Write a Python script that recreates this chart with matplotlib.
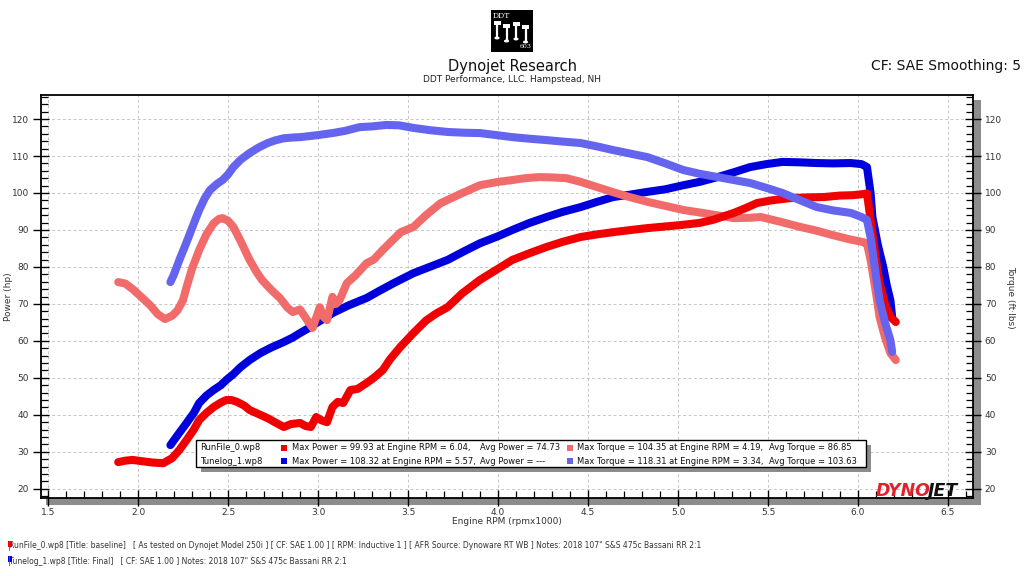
import matplotlib
matplotlib.use("Agg")
import matplotlib.pyplot as plt
from matplotlib.patches import Rectangle, Circle
from matplotlib.ticker import MultipleLocator

# ---------------- data ----------------
rpm_p0 = [1.89,1.93,1.97,2.03,2.08,2.14,2.19,2.23,2.27,2.31,2.34,2.38,2.42,2.46,2.49,2.52,2.55,2.59,2.62,2.67,
          2.72,2.76,2.81,2.85,2.90,2.93,2.96,2.99,3.02,3.05,3.08,3.11,3.14,3.18,3.22,3.27,3.31,3.36,3.40,3.46,
          3.53,3.60,3.66,3.72,3.80,3.90,4.00,4.08,4.18,4.27,4.36,4.46,4.55,4.64,4.74,4.83,4.92,5.01,5.12,5.20,
          5.26,5.31,5.38,5.44,5.52,5.62,5.72,5.81,5.90,5.97,6.03,6.05,6.07,6.10,6.12,6.15,6.18,6.21]
power0 = [27.2,27.6,27.8,27.4,27.1,26.9,28.3,30.5,33.2,36.0,38.6,40.5,42.1,43.3,44.0,44.0,43.5,42.5,41.3,40.2,
          39.1,38.0,36.7,37.5,37.8,37.0,36.7,39.4,38.5,38.0,42.1,43.5,43.2,46.7,47.0,48.6,50.0,52.1,55.0,58.5,
          62.1,65.5,67.5,69.1,72.8,76.5,79.5,81.9,83.8,85.4,86.8,88.1,88.8,89.4,90.0,90.5,90.9,91.3,91.9,92.8,
          93.8,94.6,96.0,97.3,98.0,98.6,98.8,98.9,99.3,99.4,99.7,99.9,92.7,82.0,75.6,70.0,66.5,65.1]

rpm_t0 = [1.89,1.93,1.97,2.02,2.07,2.11,2.15,2.19,2.22,2.25,2.27,2.30,2.34,2.38,2.42,2.45,2.47,2.50,2.53,2.57,
          2.62,2.66,2.69,2.74,2.79,2.83,2.86,2.90,2.94,2.97,3.01,3.03,3.05,3.08,3.10,3.12,3.16,3.21,3.27,3.31,
          3.36,3.41,3.46,3.53,3.60,3.68,3.78,3.90,4.00,4.08,4.15,4.23,4.30,4.38,4.46,4.55,4.64,4.73,4.84,4.93,
          5.03,5.15,5.31,5.40,5.46,5.57,5.68,5.77,5.86,5.95,6.03,6.05,6.07,6.10,6.12,6.15,6.18,6.21]
torque0 = [75.9,75.5,74.0,71.8,69.5,67.2,65.9,66.8,68.3,71.0,74.6,79.5,84.6,88.8,91.8,93.0,93.2,92.5,90.8,87.0,
           81.9,78.5,76.4,73.8,71.5,69.0,67.8,68.5,65.6,63.5,69.1,66.5,65.6,71.9,70.0,71.0,75.6,77.8,81.0,82.0,
           84.6,87.0,89.4,90.8,94.0,97.2,99.5,102.1,103.0,103.5,104.0,104.3,104.2,104.0,103.0,101.6,100.2,98.9,97.5,96.5,
           95.4,94.5,93.2,93.3,93.5,92.2,90.8,89.8,88.6,87.5,86.7,86.3,81.9,73.0,66.4,61.0,56.7,54.8]

rpm_p1 = [2.18,2.22,2.27,2.31,2.34,2.38,2.42,2.46,2.49,2.53,2.57,2.62,2.68,2.74,2.81,2.86,2.90,2.95,2.99,3.04,
          3.08,3.17,3.27,3.34,3.42,3.53,3.62,3.72,3.81,3.90,4.00,4.08,4.17,4.27,4.36,4.46,4.55,4.64,4.74,4.83,
          4.93,5.03,5.12,5.22,5.31,5.40,5.49,5.58,5.67,5.77,5.86,5.96,6.02,6.05,6.07,6.08,6.11,6.14,6.16,6.18,6.19]
power1 = [31.8,34.5,37.8,40.5,43.2,45.2,46.7,48.0,49.4,51.0,52.9,54.8,56.7,58.2,59.7,60.9,62.1,63.5,64.8,66.2,
          67.5,69.6,71.6,73.5,75.6,78.3,80.0,81.9,84.2,86.4,88.3,90.0,91.8,93.5,94.9,96.2,97.6,98.9,99.6,100.3,
          101.0,102.1,103.0,104.3,105.6,107.0,107.8,108.4,108.3,108.1,108.0,108.1,107.8,107.0,100.0,93.5,86.0,80.0,75.0,71.0,66.4]

rpm_t1 = [2.18,2.20,2.23,2.26,2.29,2.32,2.34,2.37,2.40,2.44,2.47,2.50,2.53,2.57,2.62,2.67,2.72,2.76,2.81,2.86,
          2.90,2.99,3.08,3.15,3.23,3.30,3.38,3.45,3.53,3.62,3.72,3.81,3.90,4.00,4.08,4.17,4.27,4.36,4.46,4.55,
          4.64,4.74,4.83,4.93,5.03,5.12,5.22,5.31,5.40,5.49,5.58,5.67,5.77,5.86,5.96,6.02,6.05,6.07,6.08,6.10,
          6.12,6.15,6.18,6.19]
torque1 = [75.9,78.0,81.9,85.5,89.2,93.0,95.4,98.5,100.8,102.5,103.5,105.0,107.0,109.0,110.8,112.3,113.5,114.2,114.8,115.0,
           115.1,115.6,116.2,116.8,117.8,118.0,118.4,118.3,117.6,117.0,116.5,116.3,116.2,115.6,115.1,114.7,114.3,113.9,113.5,112.6,
           111.6,110.6,109.7,108.0,106.2,105.2,104.3,103.5,102.7,101.4,100.0,98.2,96.2,95.3,94.6,93.5,92.7,88.0,84.6,77.5,
           71.0,65.0,60.2,57.0]

x_ticks = [1.5, 2.0, 2.5, 3.0, 3.5, 4.0, 4.5, 5.0, 5.5, 6.0, 6.5]
y_ticks = [20, 30, 40, 50, 60, 70, 80, 90, 100, 110, 120]

run_names = ["RunFile_0.wp8", "Tunelog_1.wp8"]
max_power_txt = ["Max Power = 99.93 at Engine RPM = 6.04,", "Max Power = 108.32 at Engine RPM = 5.57,"]
avg_power_txt = ["Avg Power = 74.73", "Avg Power = ---"]
max_torque_txt = ["Max Torque = 104.35 at Engine RPM = 4.19,", "Max Torque = 118.31 at Engine RPM = 3.34,"]
avg_torque_txt = ["Avg Torque = 86.85", "Avg Torque = 103.63"]
notes = ['RunFile_0.wp8 [Title: baseline]   [ As tested on Dynojet Model 250i ] [ CF: SAE 1.00 ] [ RPM: Inductive 1 ] [ AFR Source: Dynoware RT WB ] Notes: 2018 107" S&S 475c Bassani RR 2:1',
         'Tunelog_1.wp8 [Title: Final]   [ CF: SAE 1.00 ] Notes: 2018 107" S&S 475c Bassani RR 2:1']

C_P0 = "#f00000"
C_T0 = "#f26b6b"
C_P1 = "#0000dc"
C_T1 = "#6464ee"

W, H = 1024, 576
def fx(x): return x / W
def fy(y): return 1 - y / H

fig = plt.figure(figsize=(10.24, 5.76), dpi=100)
fig.patch.set_facecolor("white")

# shadows around plot area
fig.add_artist(Rectangle((fx(973), fy(505)), 8 / W, (505 - 100) / H, transform=fig.transFigure,
                         facecolor="#8c8c8c", edgecolor="none", zorder=-1))
fig.add_artist(Rectangle((fx(46), fy(505)), (981 - 46) / W, 7 / H, transform=fig.transFigure,
                         facecolor="#8c8c8c", edgecolor="none", zorder=-1))

ax = fig.add_axes([fx(41), fy(498), (973 - 41) / W, (498 - 95) / H])
ax.set_xlim(1.461, 6.639)
ax.set_ylim(17.5, 126.5)

lw = 5.8
ax.plot(rpm_p1, power1, color=C_P1, lw=lw, solid_capstyle="round", solid_joinstyle="round", zorder=3)
ax.plot(rpm_t0, torque0, color=C_T0, lw=lw, solid_capstyle="round", solid_joinstyle="round", zorder=4)
ax.plot(rpm_p0, power0, color=C_P0, lw=lw, solid_capstyle="round", solid_joinstyle="round", zorder=5)
ax.plot(rpm_t1, torque1, color=C_T1, lw=lw, solid_capstyle="round", solid_joinstyle="round", zorder=6)

ax.set_xticks(x_ticks)
ax.set_xticklabels([f"{v:.1f}" for v in x_ticks])
ax.set_yticks(y_ticks)
ax.xaxis.set_minor_locator(MultipleLocator(0.1))
ax.yaxis.set_minor_locator(MultipleLocator(2))
ax.grid(True, which="major", color="#c6c6c6", linestyle=(0, (3, 2.5)), linewidth=0.7)
ax.set_axisbelow(True)

for s in ax.spines.values():
    s.set_linewidth(1.3)
    s.set_color("black")

ax.tick_params(axis="both", which="major", direction="inout", length=11, width=1.0,
               labelsize=6.5, colors="black", labelcolor="#333333")
ax.tick_params(axis="both", which="minor", direction="in", length=5, width=0.9)
ax.tick_params(axis="x", which="major", pad=1.5)
ax.tick_params(axis="y", which="both", left=True, right=True, labelleft=True, labelright=True)
ax.tick_params(axis="y", which="major", pad=3)

fig.text(fx(507), fy(522), "Engine RPM (rpmx1000)", ha="center", va="center", fontsize=6.5, color="#333333")
fig.text(fx(9), fy(297), "Power (hp)", ha="center", va="center", rotation=90, fontsize=6.5, color="#333333")
fig.text(fx(1011), fy(297), "Torque (ft\u00b7lbs)", ha="center", va="center", rotation=-90, fontsize=6.5, color="#333333")

# titles
fig.text(fx(512), fy(66), "Dynojet Research", ha="center", va="center", fontsize=10.5, color="#111111")
fig.text(fx(512), fy(80), "DDT Performance, LLC. Hampstead, NH", ha="center", va="center", fontsize=6.5, color="#222222")
fig.text(fx(1021), fy(66), "CF: SAE Smoothing: 5", ha="right", va="center", fontsize=10, color="#111111")

# DDT logo
fig.add_artist(Rectangle((fx(491), fy(52)), 42 / W, 42 / H, transform=fig.transFigure,
                         facecolor="black", edgecolor="none", zorder=2))
fig.text(fx(493), fy(16), "DDT", ha="left", va="center", fontsize=5.5, color="white",
         family="DejaVu Serif", zorder=3)
fig.text(fx(531), fy(47), "603", ha="right", va="center", fontsize=4.5, color="white",
         family="DejaVu Serif", zorder=3)
for i, off in enumerate([0, 3, 1, 4]):
    cx = 497 + i * 9.5
    fig.add_artist(Rectangle((fx(cx - 3.5), fy(25 + off)), 7 / W, 4 / H, transform=fig.transFigure,
                             facecolor="white", edgecolor="none", zorder=3))
    fig.add_artist(plt.Line2D([fx(cx), fx(cx)], [fy(25 + off), fy(36 + off)], transform=fig.transFigure,
                              color="white", lw=1.6, zorder=3))
    fig.add_artist(Circle((fx(cx), fy(38 + off)), 2.6 / W, transform=fig.transFigure,
                          facecolor="white", edgecolor="none", zorder=3))

# legend box
fig.add_artist(Rectangle((fx(201), fy(472)), (871 - 201) / W, (472 - 445) / H, transform=fig.transFigure,
                         facecolor="#8c8c8c", edgecolor="none", zorder=7))
fig.add_artist(Rectangle((fx(196), fy(467)), (866 - 196) / W, (467 - 440) / H, transform=fig.transFigure,
                         facecolor="white", edgecolor="black", lw=1.0, zorder=8))
row_y = [448, 461]
pcols = [C_P0, C_P1]
tcols = [C_T0, C_T1]
fs = 6.0
for r in range(2):
    y = row_y[r]
    fig.text(fx(200), fy(y), run_names[r], ha="left", va="center", fontsize=fs, color="#111111", zorder=9)
    fig.add_artist(Rectangle((fx(281), fy(y + 3)), 6 / W, 6 / H, transform=fig.transFigure,
                             facecolor=pcols[r], edgecolor="none", zorder=9))
    fig.text(fx(292), fy(y), max_power_txt[r], ha="left", va="center", fontsize=fs, color="#111111", zorder=9)
    fig.text(fx(480), fy(y), avg_power_txt[r], ha="left", va="center", fontsize=fs, color="#111111", zorder=9)
    fig.add_artist(Rectangle((fx(567), fy(y + 3)), 6 / W, 6 / H, transform=fig.transFigure,
                             facecolor=tcols[r], edgecolor="none", zorder=9))
    fig.text(fx(577), fy(y), max_torque_txt[r], ha="left", va="center", fontsize=fs, color="#111111", zorder=9)
    fig.text(fx(769), fy(y), avg_torque_txt[r], ha="left", va="center", fontsize=fs, color="#111111", zorder=9)

# DYNOJET logo
fig.text(fx(876), fy(491), "DYNO", ha="left", va="center", fontsize=12.5, fontweight="heavy",
         style="italic", color="#e0202a", zorder=10)
fig.text(fx(928), fy(491), "JET", ha="left", va="center", fontsize=12.5, fontweight="heavy",
         style="italic", color="#111111", zorder=10)

# bottom notes
note_y = [546, 561]
for r in range(2):
    fig.text(fx(9), fy(note_y[r]), notes[r], ha="left", va="center", fontsize=5.5, color="#333333")
    fig.add_artist(Rectangle((fx(8), fy(note_y[r] + 1)), 4 / W, 6 / H, transform=fig.transFigure,
                             facecolor=pcols[r], edgecolor="none", zorder=5))
    fig.add_artist(plt.Line2D([fx(8.5), fx(8.5)], [fy(note_y[r] + 4), fy(note_y[r] - 5)],
                              transform=fig.transFigure, color="#555555", lw=0.6, zorder=5))

fig.savefig("out.png", dpi=100, facecolor="white")
